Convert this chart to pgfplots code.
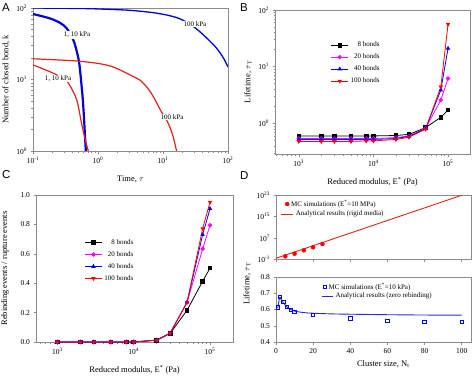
\documentclass[border=0pt]{standalone}
\usepackage{fontspec}
\setmainfont{Liberation Serif}
\setsansfont{Liberation Sans}
\usepackage{pgfplots}
\pgfplotsset{compat=1.18}

\definecolor{fr}{gray}{0.55}
\definecolor{bl}{RGB}{0,0,225}
\definecolor{rd}{RGB}{230,30,30}
\definecolor{mg}{RGB}{255,0,255}
\definecolor{dbl}{RGB}{40,40,235}

\pgfplotsset{
  base/.style={scale only axis, anchor=south west,
    axis line style={fr, line width=0.6pt},
    tick style={color=fr, line width=0.5pt},
    tick align=outside, xtick pos=left, ytick pos=left,
    major tick length=2.5pt, minor tick length=1.5pt,
    tick label style={font=\fontsize{7.5}{8}\selectfont, text=black},
    label style={font=\fontsize{8.5}{10}\selectfont},
    /pgf/number format/assume math mode=true,
    legend style={draw=none, fill=none, font=\fontsize{7}{8}\selectfont, row sep=1.6pt, inner sep=1pt},
  },
  overlay/.style={scale only axis, anchor=south west, hide axis, xmin=0, xmax=1, ymin=0, ymax=1,
    legend style={draw=none, fill=none, font=\fontsize{7}{8}\selectfont, inner sep=1pt}},
}
\newcommand{\sci}[1]{10\textsuperscript{#1}}

\begin{document}
\begin{tikzpicture}
\path[use as bounding box] (0,0) rectangle (474pt,376pt);

% ---------------- Panel A ----------------
\begin{axis}[base, at={(33pt,225pt)}, width=195pt, height=143pt,
  xmode=log, ymode=log, xmin=0.1, xmax=100, ymin=1, ymax=100,
  xtick={0.1,1,10,100}, xticklabels={\sci{-1},\sci{0},\sci{1},\sci{2}},
  ytick={1,10,100}, yticklabels={\sci{0},\sci{1},\sci{2}},
  minor xtick={0.2,0.3,0.4,0.5,0.6,0.7,0.8,0.9,2,3,4,5,6,7,8,9,20,30,40,50,60,70,80,90},
  minor ytick={2,3,4,5,6,7,8,9,20,30,40,50,60,70,80,90},
  xlabel={Time, $\tau$}, ylabel={Number of closed bond, k},
  xlabel style={at={(axis description cs:0.5,-0.196)}, anchor=center},
  ylabel style={at={(axis description cs:-0.138,0.5)}, anchor=center},
]
\addplot[bl, line width=1.3pt, smooth] coordinates {(0.1,100)(0.5,98.5)(1,97)(3,93)(7.1,86)(12,79)(17.2,72)(25,61)(35.8,47.7)(50,36)(67,27.3)(85,20)(100,15)};
\addplot[bl, line width=2.2pt, smooth] coordinates {(0.1,82.4)(0.18,71.8)(0.26,62)(0.33,52)(0.417,35.7)(0.47,25)(0.515,16.8)(0.56,8)(0.594,4.2)(0.65,1)};
\addplot[rd, line width=1.2pt, smooth] coordinates {(0.1,19.5)(0.3,18.6)(0.52,18)(1,16.8)(1.6,15.3)(2.18,13.6)(3,11.8)(4.4,9.8)(5.8,7.6)(7.1,5.76)(9.2,3.7)(11.7,2.57)(14,1.7)(16.2,1)};
\addplot[rd, line width=1.2pt, smooth] coordinates {(0.1,16)(0.18,12.9)(0.26,11)(0.35,8.9)(0.47,5.2)(0.56,2.4)(0.63,1.5)(0.71,1)};
\node[fill=white, inner sep=0.8pt, font=\fontsize{7}{8}\selectfont] at (axis cs:31,60) {100 kPa};
\node[fill=white, inner sep=0.8pt, font=\fontsize{7}{8}\selectfont] at (axis cs:0.475,42) {1, 10 kPa};
\node[fill=white, inner sep=0.8pt, font=\fontsize{7}{8}\selectfont] at (axis cs:0.243,10.4) {1, 10 kPa};
\node[fill=white, inner sep=0.8pt, font=\fontsize{7}{8}\selectfont] at (axis cs:13.8,3.0) {100 kPa};
\end{axis}

% ---------------- Panel B ----------------
\begin{axis}[base, at={(275pt,222pt)}, width=195pt, height=144pt,
  xmode=log, ymode=log, xmin=480, xmax=1.97e5, ymin=0.288, ymax=100,
  xtick={1000,10000,100000}, xticklabels={\sci{3},\sci{4},\sci{5}},
  ytick={1,10,100}, yticklabels={\sci{0},\sci{1},\sci{2}},
  minor xtick={500,600,700,800,900,2000,3000,4000,5000,6000,7000,8000,9000,20000,30000,40000,50000,60000,70000,80000,90000},
  minor ytick={0.3,0.4,0.5,0.6,0.7,0.8,0.9,2,3,4,5,6,7,8,9,20,30,40,50,60,70,80,90},
  xlabel={Reduced modulus, E\textsuperscript{*} (Pa)}, ylabel={Lifetime, $\tau$\textsubscript{T}},
  xlabel style={at={(axis description cs:0.5,-0.194)}, anchor=center},
  ylabel style={at={(axis description cs:-0.138,0.5)}, anchor=center},
  legend cell align=right,
  legend style={at={(axis description cs:0.28,0.80)}, anchor=north west},
  mark size=1.8pt,
]
\addplot[black, line width=0.8pt, mark=square*] coordinates {(1000,0.6)(2000,0.6)(3000,0.6)(5000,0.6)(8000,0.6)(10000,0.6)(20000,0.61)(30000,0.64)(50000,0.84)(80000,1.28)(100000,1.72)};
\addplot[mg, line width=0.8pt, mark=*] coordinates {(1000,0.54)(2000,0.54)(3000,0.54)(5000,0.54)(8000,0.54)(10000,0.54)(20000,0.56)(30000,0.6)(50000,0.82)(80000,2.58)(100000,6.2)};
\addplot[blue, line width=0.8pt, mark=triangle*] coordinates {(1000,0.52)(2000,0.52)(3000,0.52)(5000,0.52)(8000,0.52)(10000,0.52)(20000,0.54)(30000,0.59)(50000,0.8)(80000,3.87)(100000,21)};
\addplot[red, line width=0.8pt, mark=triangle*, mark options={rotate=180}] coordinates {(1000,0.48)(2000,0.48)(3000,0.48)(5000,0.48)(8000,0.49)(10000,0.49)(20000,0.52)(30000,0.57)(50000,0.79)(80000,4.4)(100000,56)};
\legend{8 bonds,20 bonds,40 bonds,100 bonds}
\end{axis}

% ---------------- Panel C ----------------
\begin{axis}[base, at={(36pt,34pt)}, width=197pt, height=147pt,
  xmode=log, xmin=525, xmax=2e5, ymin=0, ymax=1.0,
  xtick={1000,10000,100000}, xticklabels={\sci{3},\sci{4},\sci{5}},
  minor xtick={600,700,800,900,2000,3000,4000,5000,6000,7000,8000,9000,20000,30000,40000,50000,60000,70000,80000,90000},
  ytick={0,0.2,0.4,0.6,0.8,1.0},
  yticklabel style={/pgf/number format/.cd, fixed, fixed zerofill, precision=1},
  xlabel={Reduced modulus, E\textsuperscript{*} (Pa)}, ylabel={Rebinding events / rupture events},
  xlabel style={at={(axis description cs:0.5,-0.19)}, anchor=center},
  ylabel style={at={(axis description cs:-0.157,0.5)}, anchor=center},
  legend cell align=right,
  legend style={at={(axis description cs:0.24,0.72)}, anchor=north west},
  mark size=1.8pt,
]
\addplot[black, line width=0.8pt, mark=square*] coordinates {(1000,0)(2000,0)(3000,0)(5000,0)(8000,0)(10000,0)(20000,0.012)(30000,0.058)(50000,0.216)(80000,0.413)(100000,0.503)};
\addplot[mg, line width=0.8pt, mark=*] coordinates {(1000,0)(2000,0)(3000,0)(5000,0)(8000,0)(10000,0)(20000,0.013)(30000,0.06)(50000,0.27)(80000,0.633)(100000,0.794)};
\addplot[blue, line width=0.8pt, mark=triangle*] coordinates {(1000,0)(2000,0)(3000,0)(5000,0)(8000,0)(10000,0)(20000,0.013)(30000,0.06)(50000,0.27)(80000,0.73)(100000,0.907)};
\addplot[red, line width=0.8pt, mark=triangle*, mark options={rotate=180}] coordinates {(1000,0)(2000,0)(3000,0)(5000,0)(8000,0)(10000,0)(20000,0.013)(30000,0.06)(50000,0.27)(80000,0.771)(100000,0.952)};
\legend{8 bonds,20 bonds,40 bonds,100 bonds}
\end{axis}

% ---------------- Panel D top ----------------
\begin{axis}[base, at={(276pt,116.5pt)}, width=195pt, height=64.5pt,
  xmin=0, xmax=105, ymode=log, ymin=1e-1, ymax=1e23,
  xtick={0,20,40,60,80,100}, xticklabels={},
  ytick={1e-1,1e7,1e15,1e23}, yticklabels={\sci{-1},\sci{7},\sci{15},\sci{23}},
  minor ytick={},
  legend style={at={(axis description cs:0.041,0.86)}, anchor=west},
]
\addplot[rd, line width=0.9pt, forget plot] coordinates {(0,0.28)(100,8e22)};
\addplot[only marks, mark=*, mark size=2pt, red] coordinates {(5,1.5)(10,14)(15,260)(20,3500)(25,58000)};
\addlegendentry{MC simulations (E\textsuperscript{*}=10 MPa)}
\end{axis}
\begin{axis}[overlay, at={(276pt,116.5pt)}, width=195pt, height=64.5pt,
  legend style={at={(axis description cs:0.015,0.705)}, anchor=west},
  legend image code/.code={\draw[#1] (0cm,0cm) -- (0.45cm,0cm);},
]
\addlegendimage{rd, line width=0.9pt}
\addlegendentry{Analytical results (rigid media)}
\end{axis}

% ---------------- Panel D bottom ----------------
\begin{axis}[base, at={(276pt,34pt)}, width=195pt, height=65pt,
  xmin=0, xmax=105, ymin=0.4, ymax=0.8,
  xtick={0,20,40,60,80,100},
  ytick={0.4,0.5,0.6,0.7,0.8},
  yticklabel style={/pgf/number format/.cd, fixed, fixed zerofill, precision=1},
  xlabel={Cluster size, N\textsubscript{t}}, ylabel={Lifetime, $\tau$\textsubscript{T}},
  xlabel style={at={(axis description cs:0.55,-0.34)}, anchor=center},
  ylabel style={at={(axis description cs:-0.149,0.9)}, anchor=center},
  legend style={at={(axis description cs:0.236,0.846)}, anchor=west},
]
\addplot[dbl, line width=0.9pt, smooth, forget plot] coordinates {(1,0.61)(2,0.675)(3,0.655)(4,0.64)(6,0.615)(8,0.6)(10,0.59)(15,0.581)(20,0.577)(30,0.573)(40,0.571)(60,0.568)(80,0.566)(100,0.565)};
\addplot[only marks, mark=square, mark size=1.7pt, blue, mark options={line width=0.8pt}] coordinates {(1,0.614)(2,0.677)(4,0.646)(6,0.617)(8,0.599)(10,0.585)(20,0.568)(40,0.546)(60,0.531)(80,0.523)(100,0.523)};
\addlegendentry{MC simulations (E\textsuperscript{*}=10 kPa)}
\end{axis}
\begin{axis}[overlay, at={(276pt,34pt)}, width=195pt, height=65pt,
  legend style={at={(axis description cs:0.226,0.708)}, anchor=west},
  legend image code/.code={\draw[#1] (0cm,0cm) -- (0.4cm,0cm);},
]
\addlegendimage{dbl, line width=0.9pt}
\addlegendentry{Analytical results (zero rebinding)}
\end{axis}

% panel letters
\node[anchor=north west, inner sep=0pt, font=\sffamily\fontsize{11.5}{12}\selectfont] at (2pt,373pt) {A};
\node[anchor=north west, inner sep=0pt, font=\sffamily\fontsize{11.5}{12}\selectfont] at (240pt,373pt) {B};
\node[anchor=north west, inner sep=0pt, font=\sffamily\fontsize{11.5}{12}\selectfont] at (2pt,206pt) {C};
\node[anchor=north west, inner sep=0pt, font=\sffamily\fontsize{11.5}{12}\selectfont] at (240pt,205pt) {D};
\end{tikzpicture}
\end{document}
